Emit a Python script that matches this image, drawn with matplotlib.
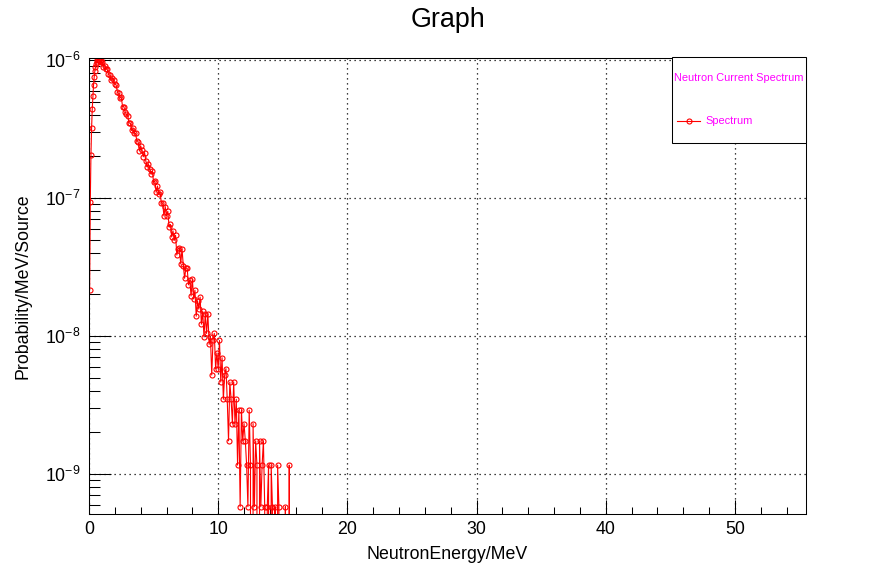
import numpy as np
import matplotlib as mpl
from matplotlib import pyplot as plt
from matplotlib.lines import Line2D
from matplotlib.patches import Rectangle
from matplotlib.ticker import LogLocator, MultipleLocator, NullFormatter

mpl.rcParams["font.family"] = ["Liberation Sans", "DejaVu Sans"]
mpl.rcParams["mathtext.fontset"] = "custom"
mpl.rcParams["mathtext.rm"] = "Liberation Sans"
mpl.rcParams["mathtext.it"] = "Liberation Sans"

# neutron energy (MeV): fine bins at the rise, 0.1 MeV after that
energy_rise = [0.05, 0.10, 0.15, 0.20, 0.25, 0.30, 0.35, 0.40, 0.45, 0.50,
               0.55, 0.60, 0.65, 0.70, 0.75, 0.80, 0.85, 0.90, 0.95]
energy_tail = list(np.round(np.arange(1.0, 15.65, 0.1), 2))

# probability per MeV per source, in units of 1e-9
spec_rise = [21.6, 94, 204, 320, 440, 545, 655, 750, 830, 890,
             940, 975, 1005, 1015, 1000, 1008, 985, 992, 968]
spec_tail = [
    962, 897, 910, 857, 863, 789, 778, 719, 736, 718,
    668, 661, 586, 573, 532, 536, 459, 460, 418, 403,
    395, 349, 350, 309, 319, 294, 295, 261, 256, 220,
    239, 221, 199, 213, 185, 168, 175, 162, 149, 157,
    130, 133, 110, 122, 107, 111, 91.9, 92.3, 74.3, 86.7,
    74.6, 80.1, 61.7, 64.3, 52.2, 57.8, 49.3, 53.6, 38.6, 43.0,
    43.1, 33.3, 42.5, 32.4, 26.2, 31.2, 31.0, 23.5, 25.5, 19.5,
    25.8, 18.56, 21.46, 13.92, 17.98, 15.66, 19.14, 12.18, 15.08, 9.86,
    14.5, 10.44, 14.5, 8.7, 9.86, 5.22, 9.28, 10.44, 5.8, 7.54,
    5.8, 9.28, 4.64, 6.96, 3.48, 5.22, 5.8, 3.48, 1.74, 4.64,
    3.48, 2.32, 4.64, 2.32, 3.48, 1.16, 2.9, 0.58, 2.9, 1.74,
    2.32, 1.74, 1.16, 0.58, 2.9, 1.16, 0, 2.32, 0.58, 1.74,
    1.16, 0, 1.74, 0.58, 1.16, 1.74, 0.58, 0, 0.58, 1.16,
    0, 1.16, 0.58, 0, 0.58, 0, 1.16, 0.58, 0, 0,
    0, 0, 0.58, 0, 0, 1.16, 0,
]

energy = np.array(energy_rise + energy_tail)
spectrum = np.array(spec_rise + spec_tail) * 1e-9

W, H = 896, 572
fig = plt.figure(figsize=(W / 100, H / 100), dpi=100)
ax = fig.add_axes([89 / W, 1 - 514 / H, 717 / W, 456 / H])

ax.plot(energy, spectrum, color="red", lw=0.8, marker="o", ms=3.6,
        mfc="none", mec="red", mew=0.8)

ax.set_yscale("log", nonpositive="clip")
ax.set_xlim(0, 55.5)
ax.set_ylim(5.13e-10, 1.034e-6)

ax.xaxis.set_major_locator(MultipleLocator(10))
ax.xaxis.set_minor_locator(MultipleLocator(2))
ax.yaxis.set_major_locator(LogLocator(base=10))
ax.yaxis.set_minor_locator(LogLocator(base=10, subs=np.arange(2, 10)))
ax.yaxis.set_minor_formatter(NullFormatter())

ax.tick_params(axis="both", which="both", direction="in", top=False, right=False,
               width=0.75, labelsize=12.8)
ax.tick_params(axis="x", which="major", length=9.8, pad=5)
ax.tick_params(axis="x", which="minor", length=4.9)
ax.tick_params(axis="y", which="major", length=15.5, pad=6)
ax.tick_params(axis="y", which="minor", length=7.7)
for s in ax.spines.values():
    s.set_linewidth(0.75)

ax.grid(True, which="major", color="black", ls=(0, (1, 3)), lw=0.9)

ax.set_xlabel("NeutronEnergy/MeV", fontsize=12.8, labelpad=6)
ax.set_ylabel("Probability/MeV/Source", fontsize=12.8, labelpad=10)
fig.text(0.5, 1 - 20 / H, "Graph", ha="center", va="center", fontsize=19.4)

# legend box (ROOT style)
fig.patches.append(Rectangle((0.75, 0.75), 0.15, 0.15, transform=fig.transFigure,
                             fill=True, fc="white", ec="black", lw=0.75, zorder=5))
fig.text(0.825, 1 - 78 / H, "Neutron Current Spectrum", color="magenta",
         ha="center", va="center", fontsize=7.9, zorder=6)
fig.lines.append(Line2D([677 / W, 700 / W], [1 - 121 / H, 1 - 121 / H],
                        transform=fig.transFigure, color="red", lw=0.8, zorder=6))
fig.lines.append(Line2D([688.5 / W], [1 - 121 / H], transform=fig.transFigure,
                        marker="o", ms=3.6, mfc="none", mec="red", mew=0.8, zorder=7))
fig.text(705 / W, 1 - 121 / H, "Spectrum", color="magenta", ha="left",
         va="center", fontsize=7.9, zorder=6)

fig.savefig("out.png", dpi=100)
plt.close(fig)
